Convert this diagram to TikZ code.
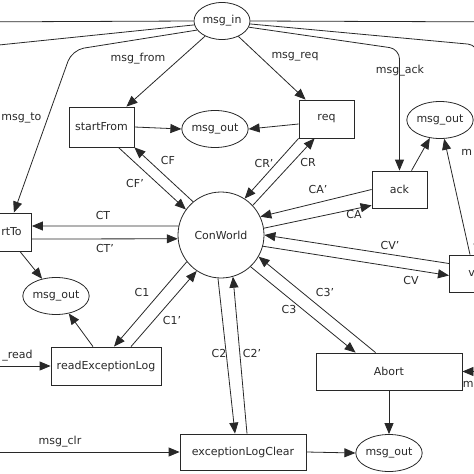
\documentclass[tikz,border=0pt]{standalone}
\usepackage{fontspec}
\setmainfont{DejaVu Sans}
\usetikzlibrary{arrows.meta}
\usetikzlibrary{calc}
\usetikzlibrary{shapes.geometric}
\tikzset{>={Triangle[length=11pt,width=9pt]}}
\tikzset{
  place/.style={draw, ellipse, inner sep=0pt, minimum width=56pt, minimum height=37pt},
  trans/.style={draw, rectangle, inner sep=0pt, minimum height=37pt},
  lbl/.style={inner sep=0pt},
}
\definecolor{ink}{RGB}{40,40,40}

\begin{document}
\begin{tikzpicture}[x=1pt, y=-1pt, font=\fontsize{11}{13}\selectfont, color=ink, line width=.8pt]
      \useasboundingbox (0,0) rectangle (474,474);
      \clip (0,0) rectangle (474,474);
      % places
      \node[place] (in) at (222,21) {msg\_in};
      \node[place] (outF) at (215,129) {msg\_out};
      \node[place] (outA) at (440,120) {msg\_out};
      \node[place] (outT) at (56,296) {msg\_out};
      \node[place] (outC) at (389,453) {msg\_out};
      \node[draw, circle, inner sep=0pt, minimum size=86pt] (cw) at (221,235) {ConWorld};
      % transitions
      \node[trans, minimum width=65pt, minimum height=40pt] (sf) at (101.5,127) {startFrom};
      \node[trans, minimum width=55pt, minimum height=38pt] (req) at (326.5,119) {req};
      \node[trans, minimum width=55pt] (ack) at (399.5,189.5) {ack};
      \node[trans, minimum width=40pt, minimum height=38pt] (st) at (11.5,232) {rtTo};
      \node[trans, minimum width=110pt, minimum height=38pt] (rel) at (106,366) {readExceptionLog};
      \node[trans, minimum width=126pt, minimum height=36pt] (elc) at (243,452) {exceptionLogClear};
      \node[trans, minimum width=146pt] (abort) at (389,371.5) {Abort};
      \node[trans, anchor=west, text width=40pt, inner xsep=19pt, align=left] (v) at (449,273.5) {v};
      % loose ends
      \coordinate (offL1) at (-40,22);
      \coordinate (offL2) at (-40,49);
      \coordinate (offR1) at (520,22);
      \coordinate (offRd) at (-40,366);
      \coordinate (offCl) at (-40,452);
      \coordinate (offAb) at (520,371.5);
      % input arcs
      \draw (in.west) -- (offL1);
      \draw (in.188) -- (offL2);
      \draw (in.east) -- (offR1);
      \draw[->] (in) -- ($(sf.north east)+(-8,0)$) node[lbl] at (138,59) {msg\_from};
      \draw[->] (in) -- ($(req.north west)+(7,0)$) node[lbl] at (295,57) {msg\_req};
      \draw[->, rounded corners=12pt] (in.200) -- (72,50) -- ($(st.north east)+(-18,0)$);
      \node[lbl, anchor=west] at (1,118) {msg\_to};
      \draw[->, rounded corners=10pt] (in.347) -- (399.5,49) -- (ack.north);
      \node[lbl] at (400,71) {msg\_ack};
      \draw[->, rounded corners=10pt] (in.354) -- (478,45) -- ($(v.north west)+(29,0)$);
      \node[lbl, anchor=west] at (461,152) {m};
      \draw[->] (offRd) -- (rel.west) node[lbl, anchor=east] at (33,356) {\_read};
      \draw[->] (offCl) -- (elc.west) node[lbl] at (60,442) {msg\_clr};
      \draw[->] (offAb) -- (abort.east) node[lbl, anchor=east] at (474,384) {m};
      % output arcs
      \draw[->] (sf.east) -- (outF.west);
      \draw[->] ($(req.west)+(0,5)$) -- (outF.east);
      \draw[->] ($(ack.north)+(12,0)$) -- (outA);
      \draw[->] ($(v.north west)+(21,0)$) -- (outA);
      \draw[->] ($(st.south east)+(-12,0)$) -- (outT);
      \draw[->] ($(rel.north)+(-13,0)$) -- (outT);
      \draw[->] (abort.south) -- (outC.north);
      \draw[->] (elc.east) -- (outC.west);
      % pairings with ConWorld
      \draw[->] (cw.130) -- (sf.south east) node[lbl] at (168,160) {CF};
      \draw[->] ($(sf.south east)+(-16,0)$) -- (cw.144) node[lbl] at (135,183) {CF'};
      \draw[->] (req.south west) -- (cw.57) node[lbl] at (264,163) {CR'};
      \draw[->] (cw.43) -- ($(req.south west)+(16,0)$) node[lbl] at (308,162) {CR};
      \draw[->] (ack.west) -- (cw.25) node[lbl] at (318,189) {CA'};
      \draw[->] (cw.9) -- ($(ack.south west)+(0,-3)$) node[lbl] at (354,214) {CA};
      \draw[->] ($(v.west)+(0,-10)$) -- (cw.0) node[lbl] at (390,245) {CV'};
      \draw[->] (cw.-15) -- ($(v.west)+(0,2)$) node[lbl] at (411,280) {CV};
      \draw[->] (cw.168) -- ($(st.east)+(0,-6)$) node[lbl] at (103,215) {CT};
      \draw[->] ($(st.east)+(0,7)$) -- (cw.185) node[lbl] at (105,248) {CT'};
      \draw[->] (cw.-142) -- ($(rel.north)+(8,0)$) node[lbl] at (142,292) {C1};
      \draw[->] ($(rel.north)+(25,0)$) -- (cw.-124) node[lbl] at (172,320) {C1'};
      \draw[->] (cw.-94) -- ($(elc.north)+(-8,0)$) node[lbl] at (219,353) {C2};
      \draw[->] ($(elc.north)+(4,0)$) -- (cw.-74) node[lbl] at (252,353) {C2'};
      \draw[->] (cw.-47) -- ($(abort.north west)+(40,0)$) node[lbl] at (289,309) {C3};
      \draw[->] ($(abort.north west)+(60,0)$) -- (cw.-30) node[lbl] at (325,292) {C3'};
\end{tikzpicture}
\end{document}
